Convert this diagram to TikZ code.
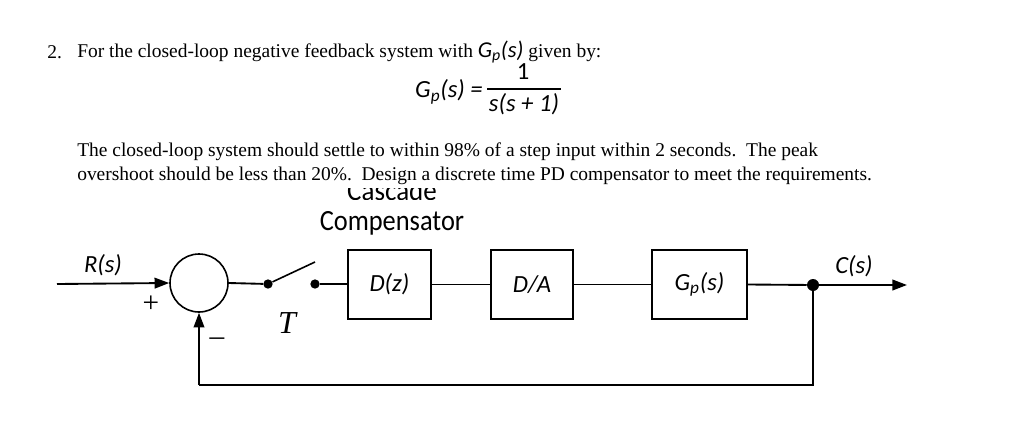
\documentclass[tikz,border=0pt]{standalone}
\usepackage{fontspec}
\setmainfont{Liberation Serif}
\newfontfamily\calfnt{Carlito}
\usetikzlibrary{arrows.meta}
\begin{document}
\begin{tikzpicture}[x=0.75pt,y=-0.75pt,
  txt/.style={inner sep=0,font=\fontsize{14.6}{16}\selectfont},
  mth/.style={inner sep=0,font=\calfnt\itshape\fontsize{18.5}{20}\selectfont},
  blk/.style={draw,line width=1.2pt,inner sep=0},
  ln/.style={line width=1.4pt},
  arr/.style={ln,-{Triangle[length=11pt,width=8pt]}},
  dot/.style={circle,fill,inner sep=0,minimum size=7pt}]
\useasboundingbox (0,0) rectangle (1024,425);
\node[txt,anchor=west] (n2) at (47,52) {2.};
\node[txt,anchor=west] (l1) at (77,52) {For the closed-loop negative feedback system with {\calfnt\itshape\fontsize{17}{18}\selectfont G\textsubscript{p}(s)} given by:};
\node[mth,anchor=east] (gl) at (483,92) {G\textsubscript{p}(s) =};
\node[mth] (num) at (523,72) {\upshape 1};
\draw[line width=0.8pt] (487,89) -- (561,89);
\node[mth] (den) at (524,104) {s(s + 1)};
\node[txt,anchor=west] (p1) at (77,152) {The closed-loop system should settle to within 98\% of a step input within 2 seconds.\ \ The peak};
\node[txt,anchor=west] (p2) at (77,176) {overshoot should be less than 20\%.\ \ Design a discrete time PD compensator to meet the requirements.};
\begin{scope}
\clip (300,188) rectangle (480,199);
\node[inner sep=0,xscale=0.92,font=\calfnt\fontsize{22}{24}\selectfont] (cas) at (392,190) {Cascade};
\end{scope}
\node[inner sep=0,xscale=0.9,font=\calfnt\fontsize{22}{24}\selectfont] (comp) at (392,223) {Compensator};
\node[draw,circle,line width=1.2pt,minimum size=58pt*0.75,inner sep=0] (sum) at (199,283) {};
\coordinate (in) at (57,284);
\draw[arr] (in) -- (sum.west);
\node[mth] (R) at (103,265) {R(s)};
\node[inner sep=0,font=\fontsize{22}{24}\selectfont] (plus) at (151,304) {+};
\node[inner sep=0,font=\fontsize{22}{24}\selectfont] (minus) at (217,342) {--};
\node[dot] (s1) at (268,284) {};
\node[dot] (s2) at (315,284) {};
\coordinate (sw) at (315,262);
\draw[ln] (sum.east) -- (s1);
\draw[line width=1.2pt] (s1) -- (sw);
\node[inner sep=0,font=\itshape\fontsize{24}{26}\selectfont] (T) at (287,323) {T};
\node[blk,minimum width=62pt,minimum height=52pt] (D) at (389.5,284.5) {};
\node[mth] at (D) {D(z)};
\node[blk,minimum width=61.5pt,minimum height=52pt] (DA) at (532,284.5) {};
\node[mth] at (DA) {D/A};
\node[blk,minimum width=71pt,minimum height=52pt] (G) at (699.5,284.5) {};
\node[mth] at (G) {G\textsubscript{p}(s)};
\draw[ln] (s2) -- (D.west|-s2);
\draw[ln] (D.east) -- (DA.west);
\draw[ln] (DA.east) -- (G.west);
\node[dot,minimum size=9pt] (o) at (813,285) {};
\draw[ln] (G.east) -- (o);
\coordinate (out) at (907,285);
\draw[arr] (o) -- (out);
\node[mth] (C) at (854,266) {C(s)};
\coordinate (fb1) at (813,385);
\coordinate (fb2) at (199,385);
\draw[ln] (o) -- (fb1) -- (fb2);
\draw[arr] (fb2) -- (sum.south);
\end{tikzpicture}
\end{document}
